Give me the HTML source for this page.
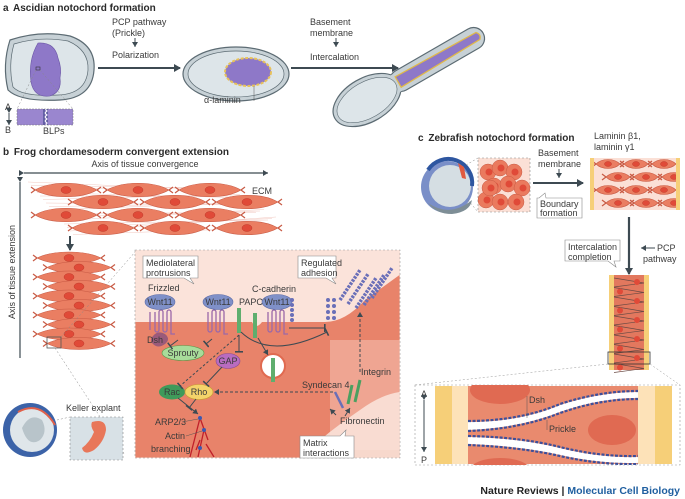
<!DOCTYPE html>
<html><head><meta charset="utf-8"><style>
html,body{margin:0;padding:0;background:#fff;}
svg{display:block;font-family:"Liberation Sans",sans-serif;}
.t{font-size:9px;fill:#3a3a3a;}
.h{font-size:10px;font-weight:bold;fill:#2a2a2a;}
</style></head><body>
<svg id="s" width="685" height="499" viewBox="0 0 685 499" xmlns="http://www.w3.org/2000/svg">
<defs>
<marker id="ar" markerWidth="8" markerHeight="8" refX="6" refY="4" orient="auto" markerUnits="userSpaceOnUse"><path d="M0,0 L7,4 L0,8 Z" fill="#3d4a52"/></marker>
<marker id="as" markerWidth="6" markerHeight="6" refX="5" refY="3" orient="auto" markerUnits="userSpaceOnUse"><path d="M0,0 L5,3 L0,6 Z" fill="#3d4a52"/></marker>
<marker id="tb" markerWidth="2" markerHeight="8" refX="1" refY="4" orient="auto" markerUnits="userSpaceOnUse"><rect x="0" y="0" width="1.6" height="8" fill="#3d4a52"/></marker>
<clipPath id="bb"><rect x="415" y="385" width="265" height="80"/></clipPath>
<clipPath id="zc"><rect x="590" y="158" width="90" height="52"/></clipPath>
</defs>

<!-- Panel a -->
<text x="3" y="11" class="h">a <tspan dx="2">Ascidian notochord formation</tspan></text>
<path d="M10,40 Q40,30 70,36 Q96,45 94,70 Q92,98 60,100 Q20,102 8,90 Q2,65 10,40Z" fill="#c7d1d6" stroke="#5c6b73" stroke-width="1.2"/>
<path d="M14,44 Q40,36 68,41 Q89,50 88,70 Q86,94 58,95 Q22,97 13,87 Q8,65 14,44Z" fill="#dde5e9" stroke="#5c6b73" stroke-width="0.7"/>
<path d="M38,43 Q55,42 58,58 Q62,68 60,78 Q62,92 50,96 Q34,98 31,82 Q28,60 38,43Z" fill="#8e78c8" stroke="#6a55a5" stroke-width="0.6"/>
<rect x="36" y="67" width="4" height="3" fill="none" stroke="#333" stroke-width="0.6"/>
<line x1="36" y1="70" x2="17" y2="109" stroke="#888" stroke-width="0.5" stroke-dasharray="2,2"/>
<line x1="40" y1="70" x2="73" y2="109" stroke="#888" stroke-width="0.5" stroke-dasharray="2,2"/>
<rect x="17" y="109" width="56" height="16" fill="#9a86cf" stroke="#777" stroke-width="0.5" stroke-dasharray="2,1"/>
<path d="M44,109 L44,125 M47,109 L47,125" stroke="#2e3a7a" stroke-width="1"/>
<path d="M45.5,109 l1.5,2 l-2,2 l2,2 l-2,2 l2,2 l-2,2 l2,2 l-1,2" stroke="#fff" fill="none" stroke-width="1"/>
<text x="5" y="110" class="t">A</text><text x="5" y="133" class="t">B</text>
<line x1="9" y1="113" x2="9" y2="125" stroke="#3d4a52" stroke-width="1" marker-end="url(#as)" marker-start="url(#as)"/>
<text x="43" y="134" class="t">BLPs</text>
<line x1="98" y1="68" x2="180" y2="68" stroke="#3d4a52" stroke-width="2" marker-end="url(#ar)"/>
<text x="112" y="25" class="t">PCP pathway</text><text x="112" y="36" class="t">(Prickle)</text>
<line x1="135" y1="38" x2="135" y2="47" stroke="#3d4a52" stroke-width="1" marker-end="url(#as)"/>
<text x="112" y="58" class="t">Polarization</text>
<ellipse cx="236" cy="74" rx="53" ry="27" fill="#c7d1d6" stroke="#5c6b73" stroke-width="1.2"/>
<ellipse cx="236" cy="74" rx="48" ry="23" fill="#dde5e9" stroke="#5c6b73" stroke-width="0.7"/>
<ellipse cx="248" cy="72" rx="23" ry="14" fill="#8e78c8" stroke="#e8c25a" stroke-width="2" stroke-dasharray="3,1.5"/>
<line x1="254" y1="86" x2="254" y2="101" stroke="#555" stroke-width="0.5"/>
<text x="204" y="103" class="t">α-laminin</text>
<line x1="291" y1="68" x2="398" y2="68" stroke="#3d4a52" stroke-width="2" marker-end="url(#ar)"/>
<text x="310" y="25" class="t">Basement</text><text x="310" y="36" class="t">membrane</text>
<line x1="336" y1="38" x2="336" y2="47" stroke="#3d4a52" stroke-width="1" marker-end="url(#as)"/>
<text x="310" y="60" class="t">Intercalation</text>
<g transform="rotate(-30 367 100)">
<rect x="395" y="89" width="106" height="22" rx="11" fill="#c7d1d6" stroke="#5c6b73" stroke-width="1.2"/>
<ellipse cx="367" cy="100" rx="37" ry="22" fill="#c7d1d6" stroke="#5c6b73" stroke-width="1.2"/>
<rect x="396" y="90.5" width="10" height="19" fill="#c7d1d6"/>
<ellipse cx="367" cy="100" rx="33" ry="18" fill="#dde5e9" stroke="#5c6b73" stroke-width="0.6"/>
<path d="M403,94 L495,96 Q499,100 495,104 L403,106Z" fill="#8e78c8" stroke="#e0b84a" stroke-width="1.3"/>
</g>

<!-- Panel b -->
<text x="3" y="155" class="h">b <tspan dx="2">Frog chordamesoderm convergent extension</tspan></text>
<line x1="24" y1="173" x2="268" y2="173" stroke="#3d4a52" stroke-width="1.2" marker-end="url(#as)" marker-start="url(#as)"/>
<text x="145" y="167" class="t" text-anchor="middle">Axis of tissue convergence</text>
<line x1="20" y1="182" x2="20" y2="358" stroke="#3d4a52" stroke-width="1.2" marker-start="url(#as)"/>
<text transform="translate(15 272) rotate(-90)" class="t" text-anchor="middle">Axis of tissue extension</text>
<g id="cells"></g>
<text x="252" y="194" class="t">ECM</text>
<line x1="70" y1="236" x2="70" y2="250" stroke="#3d4a52" stroke-width="2" marker-end="url(#ar)"/>
<g id="stack"></g>
<rect x="47" y="337" width="14" height="11" fill="none" stroke="#555" stroke-width="0.8"/>
<line x1="61" y1="337" x2="135" y2="252" stroke="#888" stroke-width="0.5" stroke-dasharray="2,2"/>
<line x1="55" y1="348" x2="125" y2="455" stroke="#888" stroke-width="0.5" stroke-dasharray="2,2"/>

<!-- Keller -->
<circle cx="30" cy="430" r="27" fill="#3c63a8"/>
<circle cx="32" cy="430" r="22" fill="#dfe6ea"/>
<path d="M18,412 Q40,400 55,425" stroke="#e0604a" stroke-width="2" fill="none"/>
<path d="M22,428 Q30,412 42,420 Q48,432 40,440 Q28,448 22,428Z" fill="#b8c4ca"/>
<text x="66" y="411" class="t">Keller explant</text>
<rect x="70" y="417" width="53" height="43" fill="#d8e1e6" stroke="#888" stroke-width="0.6" stroke-dasharray="2,2"/>
<path d="M92,422 Q106,418 106,430 Q104,442 94,450 Q84,456 82,448 Q90,442 94,432 Q90,426 92,422Z" fill="#e8775a"/>
<line x1="57" y1="420" x2="70" y2="417" stroke="#888" stroke-width="0.5" stroke-dasharray="2,2"/>

<!-- big box -->
<rect x="135" y="250" width="265" height="208" fill="#fbe3da" stroke="#999" stroke-width="0.6" stroke-dasharray="2,2"/>
<path d="M135.5,322 L252,322 Q256,330 262,322 L325,322 Q345,322 365,300 L399.5,275 L399.5,457.5 L135.5,457.5Z" fill="#e8836a"/>
<path d="M300,457.5 Q330,430 360,410 Q380,395 399.5,392 L399.5,457.5Z" fill="#f7d8cc"/>
<rect x="330" y="340" width="70" height="110" fill="#fbe6de" opacity="0.35"/>
<g stroke="#9a68a8" stroke-width="1.3" fill="none">
<path d="M150,312 v18 M155,312 v18 a2,2 0 0 0 4,0 v-18 a2,2 0 0 1 4,0 v18 a2,2 0 0 0 4,0 v-18 a2,2 0 0 1 4,0 v22 h4"/>
<path d="M208,312 v18 a2,2 0 0 0 4,0 v-18 a2,2 0 0 1 4,0 v18 a2,2 0 0 0 4,0 v-18 a2,2 0 0 1 4,0 v22 h4"/>
<path d="M268,312 v18 a2,2 0 0 0 4,0 v-18 a2,2 0 0 1 4,0 v18 a2,2 0 0 0 4,0 v-18 a2,2 0 0 1 4,0 v22 h4"/>
</g>
<ellipse cx="160" cy="302" rx="15" ry="7.5" fill="#7f90c8" stroke="#5a6aa8" stroke-width="0.6"/>
<ellipse cx="218" cy="302" rx="15" ry="7.5" fill="#7f90c8" stroke="#5a6aa8" stroke-width="0.6"/>
<ellipse cx="277" cy="302" rx="15" ry="7.5" fill="#7f90c8" stroke="#5a6aa8" stroke-width="0.6"/>
<text x="160" y="305" class="t" text-anchor="middle" fill="#223">Wnt11</text>
<text x="218" y="305" class="t" text-anchor="middle">Wnt11</text>
<text x="277" y="305" class="t" text-anchor="middle">Wnt11</text>
<text x="148" y="291" class="t">Frizzled</text>
<text x="239" y="305" class="t">PAPC</text>
<text x="252" y="292" class="t">C-cadherin</text>
<rect x="237" y="308" width="4" height="25" fill="#5fae6e"/>
<rect x="253" y="313" width="4" height="25" fill="#5fae6e"/>
<g fill="#6a6fb8"><circle cx="292" cy="300" r="2"/><circle cx="292" cy="305" r="2"/><circle cx="292" cy="310" r="2"/><circle cx="292" cy="315" r="2"/><circle cx="292" cy="320" r="2"/><circle cx="328" cy="300" r="2"/><circle cx="328" cy="306" r="2"/><circle cx="328" cy="312" r="2"/><circle cx="328" cy="318" r="2"/><circle cx="334" cy="300" r="2"/><circle cx="334" cy="306" r="2"/><circle cx="334" cy="312" r="2"/><circle cx="334" cy="318" r="2"/></g>
<g stroke="#6a6fb8" stroke-width="3.5" stroke-dasharray="2.5,1.2"><line x1="340" y1="300" x2="360" y2="270"/><line x1="348" y1="304" x2="368" y2="274"/><line x1="356" y1="308" x2="376" y2="278"/><line x1="364" y1="305" x2="384" y2="275"/><line x1="372" y1="298" x2="392" y2="268"/></g>
<path d="M153,336 q5,-6 12,-2 q6,5 0,10 q-7,5 -12,0 q-4,-4 0,-8Z" fill="#9a5a7a"/>
<text x="147" y="343" class="t">Dsh</text>
<ellipse cx="183" cy="353" rx="21" ry="7.5" fill="#a8dc9a" stroke="#5a9a4a" stroke-width="0.6"/>
<text x="183" y="356" class="t" text-anchor="middle">Sprouty</text>
<ellipse cx="228" cy="361" rx="12" ry="7.5" fill="#b86cc0" stroke="#8a4a92" stroke-width="0.6"/>
<text x="228" y="364" class="t" text-anchor="middle" fill="#fff">GAP</text>
<ellipse cx="172" cy="392" rx="13" ry="7.5" fill="#3f9a5a"/>
<text x="172" y="395" class="t" text-anchor="middle" fill="#fff">Rac</text>
<ellipse cx="199" cy="392" rx="14" ry="7.5" fill="#f4d36a" stroke="#c8a030" stroke-width="0.6"/>
<text x="199" y="395" class="t" text-anchor="middle">Rho</text>
<circle cx="273" cy="366" r="12" fill="#fff" stroke="#e06a50" stroke-width="2"/>
<rect x="271" y="358" width="4" height="24" fill="#5fae6e"/>
<g stroke="#3d4a52" stroke-width="1" fill="none">
<line x1="178" y1="340" x2="170" y2="346" marker-end="url(#tb)"/>
<line x1="212" y1="339" x2="206" y2="344" marker-end="url(#tb)"/>
<line x1="239" y1="335" x2="239" y2="352" marker-end="url(#tb)"/>
<line x1="239" y1="335" x2="180" y2="386" stroke-dasharray="2.5,2" marker-end="url(#tb)"/>
<line x1="222" y1="367" x2="206" y2="384" marker-end="url(#tb)"/>
<path d="M241,332 Q270,360 327,332" marker-end="url(#tb)"/>
<line x1="289" y1="328" x2="325" y2="328" marker-end="url(#tb)"/>
<line x1="258" y1="338" x2="268" y2="355" marker-end="url(#as)"/>
<line x1="178" y1="398" x2="198" y2="414" marker-end="url(#as)"/>
<line x1="196" y1="399" x2="189" y2="408" marker-end="url(#tb)"/>
<line x1="333" y1="392" x2="214" y2="392" stroke-dasharray="3,2" marker-end="url(#as)"/>
<line x1="360" y1="372" x2="360" y2="312" stroke-dasharray="3,2" marker-end="url(#as)"/>
<line x1="336" y1="415" x2="330" y2="409" marker-end="url(#as)"/>
<line x1="345" y1="416" x2="350" y2="408" marker-end="url(#as)"/>
</g>
<g stroke="#c0202a" stroke-width="1.3" fill="none"><path d="M200,418 L190,457 M200,418 L208,440 M204,430 L198,457 M206,444 L214,457 M200,440 L196,450"/></g>
<g fill="#3c58b0"><circle cx="200" cy="418" r="2"/><circle cx="204" cy="430" r="2"/><circle cx="200" cy="448" r="2"/></g>
<text x="155" y="425" class="t">ARP2/3</text>
<text x="165" y="439" class="t">Actin</text>
<text x="151" y="452" class="t">branching</text>
<line x1="182" y1="422" x2="198" y2="419" stroke="#555" stroke-width="0.5"/>
<line x1="186" y1="436" x2="202" y2="431" stroke="#555" stroke-width="0.5"/>
<text x="302" y="388" class="t">Syndecan 4</text>
<text x="361" y="375" class="t">Integrin</text>
<g stroke="#6a6fb8" stroke-width="2.5"><line x1="335" y1="392" x2="343" y2="408"/></g>
<g stroke="#4aa060" stroke-width="3"><line x1="352" y1="385" x2="348" y2="404"/><line x1="360" y1="380" x2="355" y2="402"/></g>
<text x="340" y="424" class="t">Fibronectin</text>
<g fill="#fff" stroke="#888" stroke-width="0.6">
<path d="M143,256 h55 v22 h-8 l4,6 l-10,-6 h-41Z"/>
<path d="M298,256 h38 v22 h-4 l4,6 l-10,-6 h-28Z"/>
<path d="M300,436 h40 l6,-6 l-1,6 h9 v22 h-54Z"/>
<path d="M537,198 h2 l6,-5 l1,5 h36 v20 h-45Z"/>
<path d="M565,240 h55 v21 h-6 l2,6 l-8,-6 h-43Z"/>
</g>
<text x="146" y="266" class="t">Mediolateral</text><text x="146" y="276" class="t">protrusions</text>
<text x="301" y="266" class="t">Regulated</text><text x="301" y="276" class="t">adhesion</text>
<text x="303" y="446" class="t">Matrix</text><text x="303" y="456" class="t">interactions</text>

<!-- Panel c -->
<text x="418" y="141" class="h">c <tspan dx="2">Zebrafish notochord formation</tspan></text>
<text x="594" y="139" class="t">Laminin β1,</text><text x="594" y="150" class="t">laminin γ1</text>
<circle cx="447" cy="187" r="26" fill="#7a8fc8"/>
<circle cx="450" cy="186" r="21" fill="#d5dee3"/>
<path d="M428,170 A24,24 0 0 1 472,186" stroke="#2e56a0" stroke-width="4" fill="none"/>
<path d="M428,203 Q450,218 472,200 Q470,212 452,214 Q436,214 428,203Z" fill="#7e8e96"/>
<path d="M458,163 l6,4 l2,12 l-4,-1Z" fill="#e05a40"/>
<line x1="466" y1="165" x2="478" y2="158" stroke="#888" stroke-width="0.5" stroke-dasharray="2,2"/>
<line x1="468" y1="200" x2="478" y2="212" stroke="#888" stroke-width="0.5" stroke-dasharray="2,2"/>
<rect x="478" y="158" width="52" height="54" fill="#fbe0d6" stroke="#888" stroke-width="0.6" stroke-dasharray="2,2"/>
<g id="round"></g>
<line x1="533" y1="183" x2="583" y2="183" stroke="#3d4a52" stroke-width="2" marker-end="url(#ar)"/>
<text x="538" y="156" class="t">Basement</text><text x="538" y="167" class="t">membrane</text>
<line x1="559" y1="169" x2="559" y2="178" stroke="#3d4a52" stroke-width="1" marker-end="url(#as)"/>
<text x="540" y="207" class="t">Boundary</text><text x="540" y="216" class="t">formation</text>
<rect x="590" y="158" width="90" height="52" fill="#fbe0d6"/>
<g id="zcells" clip-path="url(#zc)"></g>
<rect x="590" y="158" width="4" height="52" fill="#f6cf78"/><rect x="676" y="158" width="4" height="52" fill="#f6cf78"/>
<line x1="629" y1="217" x2="629" y2="274" stroke="#3d4a52" stroke-width="2.2" marker-end="url(#ar)"/>
<line x1="655" y1="248" x2="641" y2="248" stroke="#3d4a52" stroke-width="1" marker-end="url(#as)"/>
<text x="657" y="251" class="t">PCP</text><text x="643" y="262" class="t">pathway</text>
<text x="568" y="250" class="t">Intercalation</text><text x="568" y="260" class="t">completion</text>
<rect x="609" y="275" width="40" height="95" fill="#f6cf78"/>
<rect x="614" y="275" width="30" height="95" fill="#e2785e"/>
<g id="col"></g>
<rect x="608" y="352" width="42" height="12" fill="none" stroke="#333" stroke-width="0.8"/>
<line x1="608" y1="364" x2="415" y2="385" stroke="#999" stroke-width="0.5" stroke-dasharray="2,2"/>
<line x1="650" y1="364" x2="680" y2="385" stroke="#999" stroke-width="0.5" stroke-dasharray="2,2"/>
<rect x="415" y="385" width="265" height="80" fill="#fff" stroke="#999" stroke-width="0.6" stroke-dasharray="2,2"/>
<g clip-path="url(#bb)">
<rect x="435" y="386" width="17" height="78" fill="#f6cf78"/><rect x="452" y="386" width="16" height="78" fill="#fde2b8"/>
<rect x="468" y="386" width="170" height="78" fill="#e98a6e"/>
<rect x="638" y="386" width="17" height="78" fill="#fde2b8"/><rect x="655" y="386" width="17" height="78" fill="#f6cf78"/>
<ellipse cx="500" cy="390" rx="30" ry="14" fill="#e06a52"/>
<ellipse cx="612" cy="430" rx="24" ry="15" fill="#e06a52"/>
<ellipse cx="500" cy="470" rx="30" ry="12" fill="#e06a52"/>
<path d="M468,422 Q520,422 560,405 Q600,392 638,392 L638,398 Q600,398 560,412 Q520,428 468,430Z" fill="#fff"/>
<path d="M468,437 Q520,438 560,448 Q600,458 638,457 L638,463 Q600,464 560,455 Q520,446 468,444Z" fill="#fff"/>
<g stroke="#3e4f9a" stroke-width="2.2" fill="none" stroke-dasharray="3,1.5">
<path d="M468,421 Q520,421 560,404 Q600,391 638,391"/>
<path d="M468,431 Q520,429 560,413 Q600,399 638,399"/>
<path d="M468,436 Q520,437 560,447 Q600,457 638,456"/>
<path d="M468,445 Q520,447 560,456 Q600,465 638,464"/>
</g>
</g>
<text x="529" y="403" class="t">Dsh</text><line x1="527" y1="396" x2="527" y2="418" stroke="#555" stroke-width="0.5"/>
<text x="549" y="432" class="t">Prickle</text><line x1="547" y1="420" x2="547" y2="430" stroke="#555" stroke-width="0.5"/>
<text x="421" y="397" class="t">A</text><text x="421" y="463" class="t">P</text>
<line x1="424" y1="400" x2="424" y2="452" stroke="#3d4a52" stroke-width="1" marker-end="url(#as)" marker-start="url(#as)"/>

<text x="680" y="494" text-anchor="end" style="font-size:10.5px;font-weight:bold"><tspan fill="#222">Nature Reviews | </tspan><tspan fill="#1f5fa0">Molecular Cell Biology</tspan></text>
</svg>
<script>
var NS="http://www.w3.org/2000/svg";
function el(p,t,a){var e=document.createElementNS(NS,t);for(var k in a)e.setAttribute(k,a[k]);p.appendChild(e);return e;}
function cell(g,x,y,w,h,nr){
 nr=nr||5;
 el(g,"path",{d:"M"+x+","+y+" C"+(x+w*0.25)+","+(y-h)+" "+(x+w*0.75)+","+(y-h)+" "+(x+w)+","+y+" C"+(x+w*0.75)+","+(y+h)+" "+(x+w*0.25)+","+(y+h)+" "+x+","+y+"Z",fill:"#ea7e62",stroke:"#c85a44","stroke-width":"0.6"});
 el(g,"path",{d:"M"+x+","+y+" l-4,-3 M"+x+","+y+" l-4,3 M"+(x+w)+","+y+" l4,-3 M"+(x+w)+","+y+" l4,3",stroke:"#c85a44","stroke-width":"1.2"});
 el(g,"ellipse",{cx:x+w/2,cy:y,rx:nr,ry:nr*0.7,fill:"#e04a38",stroke:"#c03a2a","stroke-width":"0.5"});
}
var g=document.getElementById("cells");
for(var i=0;i<16;i++){el(g,"line",{x1:28+i*3,y1:182+i*3.5,x2:220+i*4,y2:190+i*2.5-((i%3)*4),stroke:"#f2c8c0","stroke-width":"0.5"});}
[[190,35],[202,72],[215,35],[228,72]].forEach(function(r){for(var j=0;j<3;j++)cell(g,r[1]+j*72,r[0],62,9);});
var s=document.getElementById("stack");
for(var i=0;i<10;i++){cell(s,(i%2?47:37),258+i*9.5,64,8);}
var r=document.getElementById("round");
[[488,172],[500,168],[514,172],[494,186],[508,184],[522,188],[486,200],[500,202],[516,202],[490,188]].forEach(function(c){el(r,"circle",{cx:c[0],cy:c[1],r:8,fill:"#ea7a5e",stroke:"#c85a44","stroke-width":"0.5"});el(r,"circle",{cx:c[0]+1,cy:c[1],r:3.5,fill:"#e04a38"});});
var z=document.getElementById("zcells");
for(var i=0;i<4;i++)for(var j=0;j<3;j++)cell(z,596+j*28+(i%2)*10,164+i*13,24,6,3.5);
var c=document.getElementById("col");
for(var i=0;i<10;i++){var y=278+i*9.5;el(c,"path",{d:"M614,"+y+" L644,"+(y+5)+" L614,"+(y+9),fill:"none",stroke:"#6a4a44","stroke-width":"0.7"});el(c,"circle",{cx:(i%2?620:637),cy:y+4,r:3,fill:"#e04a38"});}
</script>
</body></html>
